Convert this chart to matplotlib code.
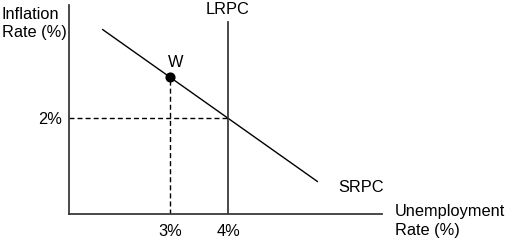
import matplotlib.pyplot as plt

plt.rcParams['font.family'] = ['Liberation Sans', 'DejaVu Sans']

# short run phillips curve end points (unemployment %, inflation %)
srpc_x = [1.83, 5.55]
srpc_y = [3.85, 0.67]
# long run phillips curve at the natural rate
lrpc_x = 4.0
lrpc_top = 4.0
# point W on the SRPC
w_x = 3.0
w_y = 2.85
# expected inflation where the curves cross
cross_y = 2.0

x_ticks = [3, 4]
x_labels = ['3%', '4%']
y_ticks = [2]
y_labels = ['2%']

axis_col = '#3a3a3a'
fs = 11.8

fig = plt.figure(figsize=(5.06, 2.46), dpi=100)
ax = fig.add_axes([69 / 506, 32 / 246, 313 / 506, 209 / 246])
ax.set_xlim(1.2586, 6.655)
ax.set_ylim(0, 4.354)

for s in ['top', 'right']:
    ax.spines[s].set_visible(False)
for s in ['left', 'bottom']:
    ax.spines[s].set_color(axis_col)
    ax.spines[s].set_linewidth(1.3)

ax.set_xticks(x_ticks, x_labels)
ax.set_yticks(y_ticks, y_labels)
ax.tick_params(axis='x', length=0, pad=7, labelsize=fs)
ax.tick_params(axis='y', length=0, pad=5, labelsize=fs)

# curves
ax.plot(srpc_x, srpc_y, color='black', lw=1.0, solid_capstyle='butt')
ax.plot([lrpc_x, lrpc_x], [0, lrpc_top], color=axis_col, lw=1.3)

# dashed guides
ax.plot([ax.get_xlim()[0], lrpc_x], [cross_y, cross_y], color='black',
        lw=1.0, dashes=(3.6, 2.2))
ax.plot([w_x, w_x], [0, w_y], color='black', lw=1.0, dashes=(3.6, 2.2))

ax.plot([w_x], [w_y], 'o', color='black', markersize=6.3, zorder=5)

# labels
ax.annotate('W', xy=(w_x, w_y), xytext=(4, 7), textcoords='offset points',
            ha='center', va='baseline', fontsize=fs)
ax.annotate('LRPC', xy=(lrpc_x, lrpc_top), xytext=(0, 6),
            textcoords='offset points', ha='center', va='baseline',
            fontsize=fs, annotation_clip=False)
ax.annotate('SRPC', xy=(srpc_x[1], srpc_y[1]), xytext=(15, -4),
            textcoords='offset points', ha='left', va='center',
            fontsize=fs)

# multi line text: baseline here is the last line
fig.text(2 / 506, 1 - 37.5 / 246, 'Inflation\nRate (%)', ha='left',
         va='baseline', fontsize=fs, linespacing=1.3)
fig.text(395 / 506, 1 - 235 / 246, 'Unemployment\nRate (%)', ha='left',
         va='baseline', fontsize=fs, linespacing=1.3)

fig.savefig('out.png', dpi=100)
